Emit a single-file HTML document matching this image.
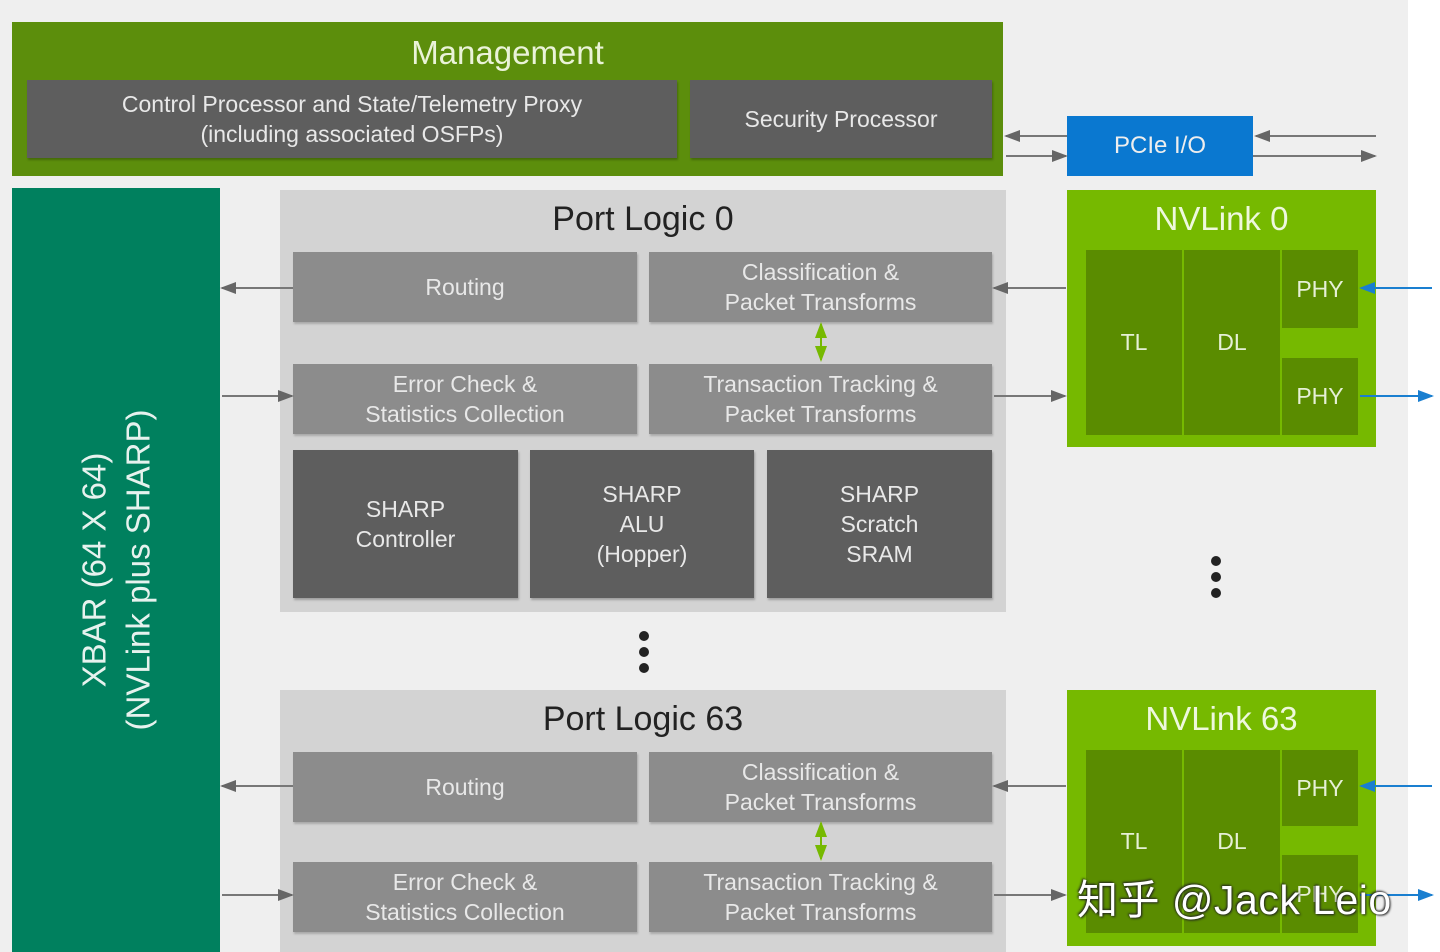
<!DOCTYPE html>
<html><head><meta charset="utf-8"><style>
body{margin:0;width:1440px;height:952px;overflow:hidden;background:#fff;font-family:"Liberation Sans","Noto Sans CJK SC",sans-serif;}
.a{position:absolute;box-sizing:border-box;display:flex;align-items:center;justify-content:center;text-align:center;color:#eee;}
.g{background:#8c8c8c;font-size:23px;line-height:30px;color:#e8e8e8;box-shadow:1px 2px 2px rgba(0,0,0,.2)}
.d{background:#5e5e5e;font-size:23px;line-height:30px;color:#e8e8e8;box-shadow:1px 2px 2px rgba(0,0,0,.25)}
.pl{background:#d3d3d3;align-items:flex-start;color:#222;font-size:34px;padding-top:10px}
.nv{background:#76b900;align-items:flex-start;color:#eef8dd;font-size:33px;padding-top:10px}
.in{background:#5a8c00;font-size:23px;color:#e6f0d6}
.dot{position:absolute;width:10px;height:10px;border-radius:5px;background:#222}
</style></head><body>
<div style="position:absolute;left:0;top:0;width:1408px;height:952px;background:#efefef"></div>
<div class="a" style="left:12px;top:22px;width:991px;height:154px;background:#5c8e0c;align-items:flex-start;font-size:33px;padding-top:12px;color:#eaf3d8">Management</div>
<div class="a d" style="left:27px;top:80px;width:650px;height:78px">Control Processor and State/Telemetry Proxy<br>(including associated OSFPs)</div>
<div class="a d" style="left:690px;top:80px;width:302px;height:78px">Security Processor</div>
<div class="a" style="left:1067px;top:116px;width:186px;height:60px;background:#0a78d0;font-size:24px">PCIe I/O</div>
<div class="a" style="left:12px;top:188px;width:208px;height:764px;background:#00805e"><div style="transform:rotate(-90deg);white-space:nowrap;font-size:33px;line-height:44px;color:#e6f2ee">XBAR (64 X 64)<br>(NVLink plus SHARP)</div></div>

<div class="a pl" style="left:280px;top:190px;width:726px;height:422px">Port Logic 0</div>
<div class="a g" style="left:293px;top:252px;width:344px;height:70px">Routing</div>
<div class="a g" style="left:649px;top:252px;width:343px;height:70px">Classification &amp;<br>Packet Transforms</div>
<div class="a g" style="left:293px;top:364px;width:344px;height:70px">Error Check &amp;<br>Statistics Collection</div>
<div class="a g" style="left:649px;top:364px;width:343px;height:70px">Transaction Tracking &amp;<br>Packet Transforms</div>
<div class="a d" style="left:293px;top:450px;width:225px;height:148px">SHARP<br>Controller</div>
<div class="a d" style="left:530px;top:450px;width:224px;height:148px">SHARP<br>ALU<br>(Hopper)</div>
<div class="a d" style="left:767px;top:450px;width:225px;height:148px">SHARP<br>Scratch<br>SRAM</div>

<div class="a pl" style="left:280px;top:690px;width:726px;height:262px">Port Logic 63</div>
<div class="a g" style="left:293px;top:752px;width:344px;height:70px">Routing</div>
<div class="a g" style="left:649px;top:752px;width:343px;height:70px">Classification &amp;<br>Packet Transforms</div>
<div class="a g" style="left:293px;top:862px;width:344px;height:70px">Error Check &amp;<br>Statistics Collection</div>
<div class="a g" style="left:649px;top:862px;width:343px;height:70px">Transaction Tracking &amp;<br>Packet Transforms</div>

<div class="a nv" style="left:1067px;top:190px;width:309px;height:257px">NVLink 0</div>
<div class="a in" style="left:1086px;top:250px;width:96px;height:185px">TL</div>
<div class="a in" style="left:1184px;top:250px;width:96px;height:185px">DL</div>
<div class="a in" style="left:1282px;top:250px;width:76px;height:78px">PHY</div>
<div class="a in" style="left:1282px;top:358px;width:76px;height:77px">PHY</div>

<div class="a nv" style="left:1067px;top:690px;width:309px;height:256px">NVLink 63</div>
<div class="a in" style="left:1086px;top:750px;width:96px;height:183px">TL</div>
<div class="a in" style="left:1184px;top:750px;width:96px;height:183px">DL</div>
<div class="a in" style="left:1282px;top:750px;width:76px;height:76px">PHY</div>
<div class="a in" style="left:1282px;top:855px;width:76px;height:78px">PHY</div>

<div class="dot" style="left:639px;top:631px"></div><div class="dot" style="left:639px;top:647px"></div><div class="dot" style="left:639px;top:663px"></div>
<div class="dot" style="left:1211px;top:556px"></div><div class="dot" style="left:1211px;top:572px"></div><div class="dot" style="left:1211px;top:588px"></div>

<svg width="1440" height="952" style="position:absolute;left:0;top:0">
<defs>
<marker id="m" markerWidth="8" markerHeight="8" refX="7" refY="4" orient="auto"><path d="M0,1L8,4L0,7z" fill="#666"/></marker>
<marker id="b" markerWidth="8" markerHeight="8" refX="7" refY="4" orient="auto"><path d="M0,1L8,4L0,7z" fill="#1a7fd0"/></marker>
<marker id="gr" markerWidth="8" markerHeight="8" refX="7" refY="4" orient="auto"><path d="M0,1L8,4L0,7z" fill="#76b900"/></marker>
</defs>
<g stroke="#777" stroke-width="2" fill="none">
<line x1="1067" y1="136" x2="1006" y2="136" marker-end="url(#m)"/>
<line x1="1006" y1="156" x2="1066" y2="156" marker-end="url(#m)"/>
<line x1="1376" y1="136" x2="1256" y2="136" marker-end="url(#m)"/>
<line x1="1253" y1="156" x2="1375" y2="156" marker-end="url(#m)"/>
<line x1="293" y1="288" x2="222" y2="288" marker-end="url(#m)"/>
<line x1="222" y1="396" x2="292" y2="396" marker-end="url(#m)"/>
<line x1="1066" y1="288" x2="994" y2="288" marker-end="url(#m)"/>
<line x1="994" y1="396" x2="1065" y2="396" marker-end="url(#m)"/>
<line x1="293" y1="786" x2="222" y2="786" marker-end="url(#m)"/>
<line x1="222" y1="895" x2="292" y2="895" marker-end="url(#m)"/>
<line x1="1066" y1="786" x2="994" y2="786" marker-end="url(#m)"/>
<line x1="994" y1="895" x2="1065" y2="895" marker-end="url(#m)"/>
</g>
<g stroke="#1a7fd0" stroke-width="2">
<line x1="1432" y1="288" x2="1361" y2="288" marker-end="url(#b)"/>
<line x1="1360" y1="396" x2="1432" y2="396" marker-end="url(#b)"/>
<line x1="1432" y1="786" x2="1361" y2="786" marker-end="url(#b)"/>
<line x1="1360" y1="895" x2="1432" y2="895" marker-end="url(#b)"/>
</g>
<g stroke="#76b900" stroke-width="2">
<line x1="821" y1="340" x2="821" y2="324" marker-end="url(#gr)"/><line x1="821" y1="340" x2="821" y2="360" marker-end="url(#gr)"/>
<line x1="821" y1="838" x2="821" y2="823" marker-end="url(#gr)"/><line x1="821" y1="838" x2="821" y2="859" marker-end="url(#gr)"/>
</g>
</svg>
<div style="position:absolute;left:1077px;top:866px;font-size:41px;letter-spacing:0.5px;color:#fff;white-space:nowrap;text-shadow:1px 1px 2px #222,-1px -1px 2px #222">知乎 @Jack Leio</div>
</body></html>
